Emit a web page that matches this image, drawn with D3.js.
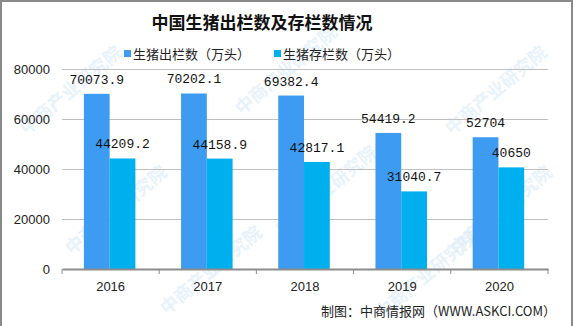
<!DOCTYPE html>
<html>
<head>
<meta charset="utf-8">
<script src="https://cdn.jsdelivr.net/npm/d3@7"></script>
<style>
  body { margin: 0; background: #fff; }
  svg { display: block; }
</style>
</head>
<body>
<svg id="chart"></svg>
<script>
// data
var years = ["2016", "2017", "2018", "2019", "2020"];
var chulan = [70073.9, 70202.1, 69382.4, 54419.2, 52704];
var cunlan = [44209.2, 44158.9, 42817.1, 31040.7, 40650];
var seriesNames = ["生猪出栏数（万头）", "生猪存栏数（万头）"];
var yTicks = [0, 20000, 40000, 60000, 80000];

var colors = ["#3d9cf1", "#00b0ee"];

var W = 575, H = 326;
var margin = { top: 69, right: 27, bottom: 57, left: 62 };
var width = W - margin.left - margin.right;
var height = H - margin.top - margin.bottom;

var svg = d3.select("#chart").attr("width", W).attr("height", H);

// outer frame
svg.append("path")
    .attr("d", "M1,326 L1,1 L572,1 L572,326")
    .attr("fill", "none")
    .attr("stroke", "#8a8a8a")
    .attr("stroke-width", 2);

// watermark, kept inside the frame
var wm = [[75, 95], [290, 75], [500, 95], [120, 215], [330, 195], [505, 215], [215, 275], [430, 280]];
wm.forEach(function(p) {
  svg.append("text")
      .attr("transform", "translate(" + p[0] + "," + p[1] + ") rotate(-40)")
      .attr("text-anchor", "middle")
      .attr("font-family", "Noto Sans CJK SC")
      .attr("font-size", 18)
      .attr("font-weight", "bold")
      .attr("fill", "#d6e9f7")
      .attr("opacity", 0.55)
      .text("中商产业研究院");
});

svg.append("text")
    .attr("x", 262).attr("y", 29)
    .attr("text-anchor", "middle")
    .attr("font-family", "Noto Sans CJK SC")
    .attr("font-weight", "bold")
    .attr("font-size", 17)
    .attr("fill", "#111")
    .text("中国生猪出栏数及存栏数情况");

// legend
var legendX = [124, 274];
seriesNames.forEach(function(name, i) {
  svg.append("rect")
      .attr("x", legendX[i]).attr("y", 50)
      .attr("width", 7).attr("height", 7)
      .attr("fill", colors[i]);
  svg.append("text")
      .attr("x", legendX[i] + 9).attr("y", 59)
      .attr("font-family", "Noto Sans CJK SC")
      .attr("font-size", 13)
      .attr("fill", "#222")
      .text(name);
});

var g = svg.append("g")
    .attr("transform", "translate(" + margin.left + "," + margin.top + ")");

var x0 = d3.scaleBand().domain(years).range([0, width]);
var x1 = d3.scaleBand().domain([0, 1])
    .range([x0.bandwidth() * 0.225, x0.bandwidth() * 0.755]);
var y = d3.scaleLinear().domain([0, 80000]).range([height, 0]);

// gridlines
g.append("g")
    .selectAll("line")
    .data(yTicks.slice(1))
    .enter().append("line")
    .attr("x1", 0).attr("x2", width)
    .attr("y1", function(d) { return y(d) + 0.5; })
    .attr("y2", function(d) { return y(d) + 0.5; })
    .attr("stroke", "#bfbfbf");

// y axis labels
var yAxis = g.append("g")
    .call(d3.axisLeft(y).tickValues(yTicks).tickFormat(d3.format("d")).tickSize(0).tickPadding(12));
yAxis.select(".domain").remove();
yAxis.selectAll("text")
    .attr("font-family", "Liberation Sans")
    .attr("font-size", 13)
    .attr("fill", "#222");

// bars
var groups = g.selectAll(".yr")
    .data(years)
    .enter().append("g")
    .attr("transform", function(d) { return "translate(" + x0(d) + ",0)"; });

[chulan, cunlan].forEach(function(vals, s) {
  groups.append("rect")
      .attr("x", x1(s))
      .attr("width", x1.bandwidth())
      .attr("y", function(d, i) { return y(vals[i]); })
      .attr("height", function(d, i) { return height - y(vals[i]); })
      .attr("fill", colors[s]);
  groups.append("text")
      .attr("x", x1(s) + x1.bandwidth() / 2)
      .attr("y", function(d, i) { return y(vals[i]) - 10; })
      .attr("text-anchor", "middle")
      .attr("font-family", "Liberation Mono")
      .attr("font-size", 13)
      .attr("fill", "#111")
      .text(function(d, i) { return vals[i]; });
});

// x axis
var xAxis = g.append("g")
    .attr("transform", "translate(0," + height + ")")
    .call(d3.axisBottom(x0).tickSize(0).tickPadding(13));
xAxis.select(".domain").attr("stroke", "#8c8c8c").attr("stroke-width", 2);
xAxis.selectAll("text")
    .attr("font-family", "Liberation Sans")
    .attr("font-size", 13)
    .attr("fill", "#222");
xAxis.selectAll(".sep")
    .data(d3.range(years.length + 1))
    .enter().append("line")
    .attr("x1", function(i) { return i * x0.step(); })
    .attr("x2", function(i) { return i * x0.step(); })
    .attr("y1", 0).attr("y2", 5)
    .attr("stroke", "#8c8c8c");

svg.append("text")
    .attr("x", 556).attr("y", 316)
    .attr("text-anchor", "end")
    .attr("font-family", "Noto Sans CJK SC")
    .attr("font-size", 13)
    .attr("fill", "#222")
    .text("制图：中商情报网（WWW.ASKCI.COM）");
</script>
</body>
</html>
